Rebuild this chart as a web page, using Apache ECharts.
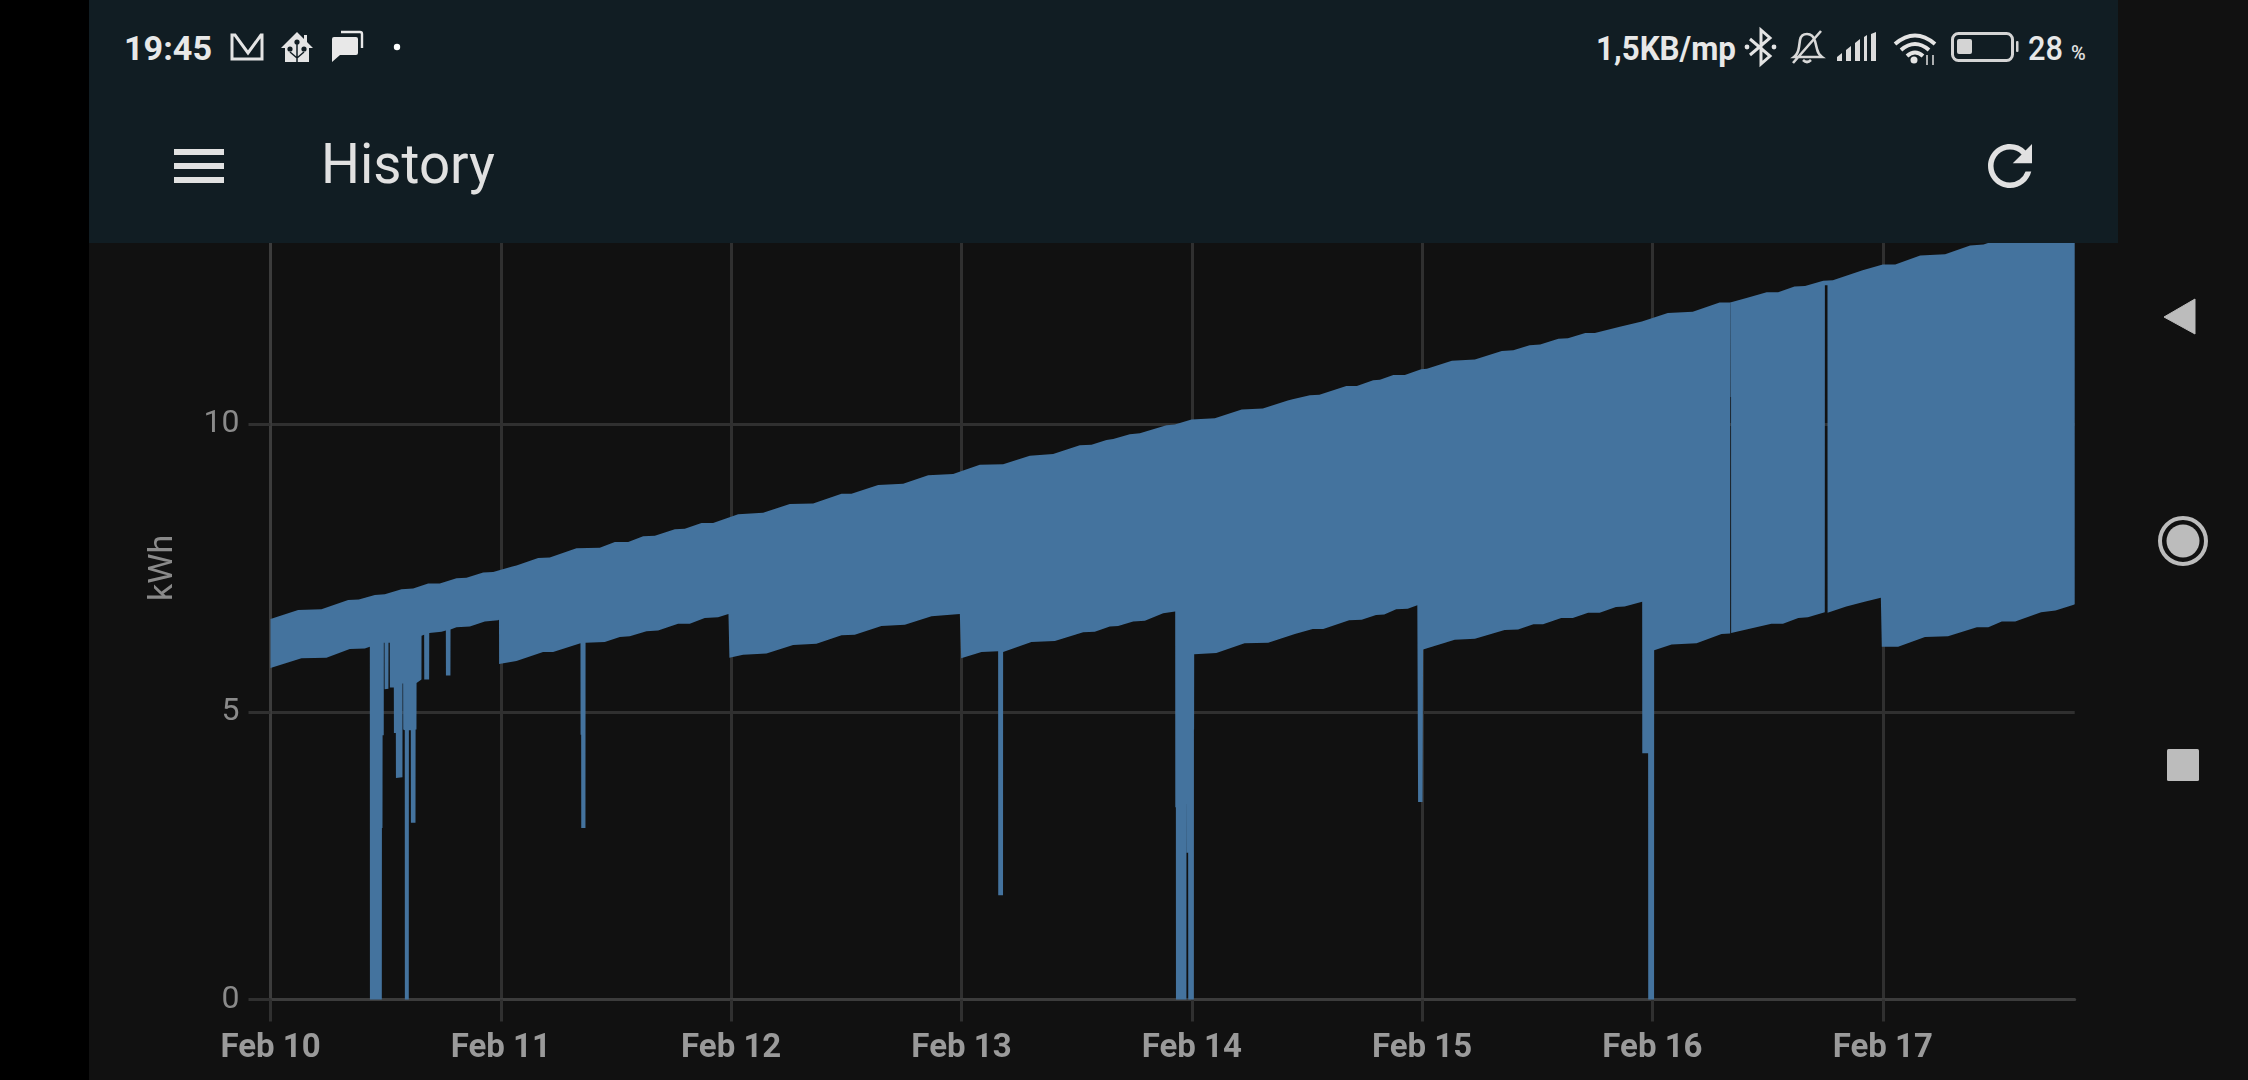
<!DOCTYPE html>
<html>
<head>
<meta charset="utf-8">
<title>History</title>
<script src="https://cdn.jsdelivr.net/npm/echarts@6/dist/echarts.min.js"></script>
<style>
html,body{margin:0;padding:0;width:2248px;height:1080px;background:#111;overflow:hidden}
#chart{position:absolute;left:0;top:0;width:2248px;height:1080px}
#chrome{position:absolute;left:0;top:0;width:2248px;height:1080px;pointer-events:none}
text{font-family:Roboto,sans-serif}
</style>
</head>
<body>
<div id="chart"></div>
<svg id="chrome" width="2248" height="1080" viewBox="0 0 2248 1080">
  <rect x="0" y="0" width="89" height="1080" fill="#000"/>
  <rect x="89" y="0" width="2029" height="243" fill="#111d23"/>
  <text x="124" y="60" font-size="34" font-weight="700" fill="#e8e8e8" textLength="88" lengthAdjust="spacingAndGlyphs">19:45</text>
  <path d="M232 59V35h3l13 18 13-18h1v24z" fill="none" stroke="#e4e4e4" stroke-width="3"/>
  <path d="M297 32l7 7v-4h3v7l6 6h-4v14h-24V48h-4z" fill="#e4e4e4"/>
  <circle cx="297" cy="42" r="2.6" fill="#111d23"/><circle cx="290" cy="49" r="2.6" fill="#111d23"/><circle cx="304" cy="49" r="2.6" fill="#111d23"/>
  <path d="M297 44v18M290 52l7 6M304 52l-7 6" stroke="#111d23" stroke-width="1.5"/>
  <path d="M334 37h22q2 0 2 2v14q0 2-2 2h-16l-8 7V39q0-2 2-2z" fill="#e8e8e8"/>
  <path d="M341 32h19q2 0 2 2v14" fill="none" stroke="#e8e8e8" stroke-width="2.4"/>
  <circle cx="397" cy="47" r="3.2" fill="#fff"/>
  <rect x="174" y="149" width="50" height="6" fill="#e1e1e1"/>
  <rect x="174" y="163" width="50" height="6" fill="#e1e1e1"/>
  <rect x="174" y="177" width="50" height="6" fill="#e1e1e1"/>
  <text x="321" y="183" font-size="55" font-weight="400" fill="#e1e1e1" textLength="174" lengthAdjust="spacingAndGlyphs">History</text>
  <text x="1596" y="60" font-size="33" font-weight="700" fill="#e8e8e8" textLength="140" lengthAdjust="spacingAndGlyphs">1,5KB/mp</text>
  <path d="M1750 39l20 17-9 8V30l9 8-20 17" fill="none" stroke="#e4e4e4" stroke-width="3"/>
  <circle cx="1747" cy="47" r="2.4" fill="#e4e4e4"/><circle cx="1774" cy="47" r="2.4" fill="#e4e4e4"/>
  <path d="M1794 57q4-3 5-10l1-7q1-6 7-6t8 7l2 8q1 5 5 8zM1793 63l28-32M1803 60q4 4 8 0" fill="none" stroke="#d8d8d8" stroke-width="2.6"/>
  <path d="M1837 61v-4l5-4v8zM1846 61v-11l5-4v15zM1855 61V43l5-4v22zM1864 61V37l3-2v26zM1871 61V34l5-2v29z" fill="#dcdcdc"/>
  <path d="M1895 44q20-17 40 0M1901 50q14-12 28 0M1907 56q8-7 16 0" fill="none" stroke="#e4e4e4" stroke-width="4"/>
  <circle cx="1914" cy="60" r="3.5" fill="#e4e4e4"/>
  <path d="M1927 55v10M1933 55v10" stroke="#d4d4d4" stroke-width="1.6"/>
  <rect x="1952.5" y="33.5" width="60" height="27" rx="6" fill="none" stroke="#d4d4d4" stroke-width="3"/>
  <rect x="1957" y="39" width="15" height="15" rx="2" fill="#d4d4d4"/>
  <rect x="2016" y="41" width="2.5" height="11" rx="1" fill="#d4d4d4"/>
  <text x="2028" y="60" font-size="33" font-weight="500" fill="#e8e8e8" textLength="35" lengthAdjust="spacingAndGlyphs">28</text>
  <text x="2071" y="60" font-size="20" font-weight="500" fill="#e0e0e0">%</text>
  <path transform="translate(1977 133) scale(2.75)" d="M17.65 6.35A7.958 7.958 0 0 0 12 4c-4.42 0-7.99 3.58-7.99 8s3.57 8 7.99 8c3.73 0 6.84-2.55 7.73-6h-2.08A5.99 5.99 0 0 1 12 18c-3.31 0-6-2.69-6-6s2.69-6 6-6c1.66 0 3.14.69 4.22 1.78L13 11h7V4l-2.35 2.35z" fill="#e1e1e1"/>
  <path d="M2195 299v35l-31-17z" fill="#bcbcbc" stroke="#bcbcbc" stroke-width="1" stroke-linejoin="round"/>
  <circle cx="2183" cy="541" r="23" fill="none" stroke="#bcbcbc" stroke-width="4"/>
  <circle cx="2183" cy="541" r="16.5" fill="#bcbcbc"/>
  <rect x="2167" y="749" width="32" height="32" rx="1.5" fill="#bcbcbc"/>
</svg>
<script>
var dayLabels = ['Feb 10','Feb 11','Feb 12','Feb 13','Feb 14','Feb 15','Feb 16','Feb 17'];
var dayHours = [0,24,48,72,96,120,144,168];

var upperHours = [0,2.88,5.31,8.09,9.2,10.87,11.91,13.65,14.86,16.43,17.64,19.38,20.42,22.16,23.2,25.11,25.63,27.89,29.1,31.88,34.31,35.88,37.27,38.83,40.05,42.13,43.17,44.91,46.12,48.73,51.33,54.11,56.54,59.5,60.54,63.32,65.92,68.53,71.13,73.91,76.34,79.12,81.55,84.33,85.55,87.11,87.81,89.54,90.59,93.36,94.23,95.97,98.4,101.2,103.4,106,106.5,108.3,109.3,112.1,113.2,114.9,115.6,117,118.2,119.9,120.5,123.1,125.5,128.3,129.5,131.2,132.3,134.2,135.2,137,138,140.6,142.9,145.6,148.2,151,152.1,153.8,155.9,157.1,158.8,159.9,161.8,162.8,165.9,168,169.3,171.9,174.5,177.1,178.5,179.2,183,188];
var upperKwh = [6.61,6.77,6.78,6.94,6.95,7.03,7.04,7.13,7.14,7.23,7.23,7.32,7.33,7.42,7.43,7.52,7.54,7.67,7.68,7.84,7.85,7.95,7.95,8.05,8.06,8.17,8.18,8.28,8.28,8.43,8.46,8.61,8.62,8.79,8.79,8.94,8.96,9.11,9.13,9.29,9.3,9.45,9.48,9.63,9.64,9.72,9.74,9.82,9.84,9.98,9.99,10.08,10.1,10.25,10.27,10.41,10.43,10.5,10.51,10.66,10.66,10.76,10.77,10.85,10.85,10.95,10.96,11.1,11.12,11.27,11.28,11.37,11.38,11.48,11.49,11.58,11.58,11.69,11.78,11.93,11.95,12.11,12.11,12.19,12.29,12.29,12.39,12.4,12.49,12.5,12.67,12.77,12.77,12.93,12.95,13.1,13.12,13.16,13.4,13.7];

var lowerHours = [0,3.23,5.83,8.26,9.83,10.35,10.36,11.6,11.61,11.67,11.68,11.8,11.81,11.88,11.89,12.29,12.3,12.43,12.44,12.85,12.86,13.06,13.07,13.75,13.76,13.82,13.83,13.99,14,14.41,14.42,14.62,14.63,15.11,15.12,15.21,15.22,15.73,15.74,16.01,16.02,16.53,16.54,17.82,18.27,18.28,18.75,18.76,19.38,20.77,22.33,23.72,23.81,23.82,25.63,28.4,29.45,32.3,32.31,32.37,32.38,32.82,32.83,34.83,36.4,37.44,39.18,40.39,42.47,43.69,45.25,46.64,47.72,47.82,49.25,51.68,54.46,56.89,59.5,60.88,63.66,66.1,68.88,71.83,71.97,74.09,75.82,75.83,76.33,76.34,79.29,81.73,84.68,85.89,87.46,88.33,89.89,91.11,93.02,94.27,94.28,94.34,94.35,95.44,95.445,95.45,95.46,95.62,95.63,96.21,96.22,96.24,96.25,98.56,101.5,103.96,106.74,108.6,109.7,112.4,113.7,115.2,116.05,117.3,118.5,119.5,119.58,120.04,120.1,123.4,125.5,128.6,130,131.6,132.6,134.5,135.7,137.3,138.5,140.2,141.1,142.93,142.94,143.55,143.56,144.17,144.18,146,148.6,151.2,152.1,152.11,152.12,152.14,152.15,152.19,152.2,156.4,157.6,159.2,160.2,161.96,161.97,162.24,162.25,164.2,166.1,167.8,167.9,169.6,172.4,174.8,177.8,179,180.4,181.8,184.5,186,187.9,188];
var lowerKwh = [5.76,5.93,5.94,6.09,6.1,6.13,0,0,2.98,2.98,4.59,4.59,6.2,6.2,5.39,5.4,6.2,6.2,5.42,5.42,4.63,4.63,3.85,3.86,5.49,5.49,4.69,4.68,0,0,4.68,4.68,3.07,3.07,4.69,4.69,5.5,5.56,6.32,6.34,5.56,5.56,6.37,6.39,6.41,5.63,5.63,6.43,6.47,6.48,6.57,6.59,6.6,5.83,5.88,6.04,6.04,6.19,4.6,4.6,2.98,2.98,6.2,6.21,6.3,6.31,6.4,6.41,6.53,6.53,6.63,6.64,6.7,5.94,5.99,6.01,6.16,6.18,6.33,6.34,6.49,6.51,6.66,6.7,5.93,6.04,6.05,1.81,1.81,6.04,6.21,6.23,6.38,6.39,6.48,6.49,6.57,6.58,6.71,6.74,3.34,3.34,0,0,3.4,3.4,2.55,2.55,0,0,4.69,4.69,6,6.02,6.19,6.2,6.35,6.44,6.44,6.59,6.6,6.68,6.69,6.78,6.79,6.85,3.43,3.43,6.08,6.25,6.27,6.42,6.43,6.52,6.52,6.63,6.63,6.72,6.72,6.82,6.83,6.91,4.28,4.28,0,0,6.07,6.17,6.19,6.35,6.36,10.47,12.1,12.1,10.47,10.47,6.37,6.53,6.53,6.63,6.64,6.73,12.41,12.41,6.72,6.83,6.91,6.98,6.13,6.13,6.3,6.31,6.47,6.47,6.57,6.57,6.73,6.76,6.86,6.87];

var outline = [];
upperHours.forEach(function (h, i) { outline.push([h, upperKwh[i]]); });
for (var i = lowerHours.length - 1; i >= 0; i--) outline.push([lowerHours[i], lowerKwh[i]]);

var chart = echarts.init(document.getElementById('chart'), null, { renderer: 'canvas' });
chart.setOption({
  backgroundColor: '#111111',
  animation: false,
  grid: { left: 270.5, width: 1804.2, top: 136.25, height: 863.25 },
  xAxis: {
    type: 'value',
    min: 0,
    max: 188,
    axisLine: { show: true, onZero: false, lineStyle: { color: '#3c3c3c', width: 3 } },
    axisTick: { show: true, length: 22, customValues: dayHours, lineStyle: { color: '#303030', width: 3 } },
    splitLine: { show: true, lineStyle: { color: '#303030', width: 3 } },
    axisLabel: {
      customValues: dayHours,
      color: '#9a9a9a', fontFamily: 'Roboto', fontWeight: 700, fontSize: 33, margin: 33,
      hideOverlap: false,
      formatter: function (v) { return dayLabels[dayHours.indexOf(v)] || ''; }
    }
  },
  yAxis: {
    type: 'value',
    min: 0, max: 15, interval: 5,
    name: 'kWh',
    nameLocation: 'middle',
    nameGap: 90,
    nameRotate: 90,
    nameTextStyle: { color: '#8a8a8a', fontFamily: 'Roboto', fontSize: 34, fontWeight: 400 },
    axisLine: { show: true, lineStyle: { color: '#3c3c3c', width: 3 } },
    axisTick: { show: true, length: 22, lineStyle: { color: '#303030', width: 3 } },
    splitLine: { show: true, lineStyle: { color: '#303030', width: 3 } },
    axisLabel: { color: '#8a8a8a', fontFamily: 'Roboto', fontSize: 32, margin: 31, showMaxLabel: false }
  },
  series: [{
    type: 'custom',
    name: 'kWh',
    coordinateSystem: 'cartesian2d',
    clip: false,
    silent: true,
    data: outline,
    encode: { x: 0, y: 1 },
    renderItem: function (params, api) {
      if (params.dataIndex !== 0) return null;
      return {
        type: 'polygon',
        shape: { points: outline.map(function (p) { return api.coord(p); }) },
        style: { fill: '#44739e' }
      };
    }
  }]
});
</script>
</body>
</html>
